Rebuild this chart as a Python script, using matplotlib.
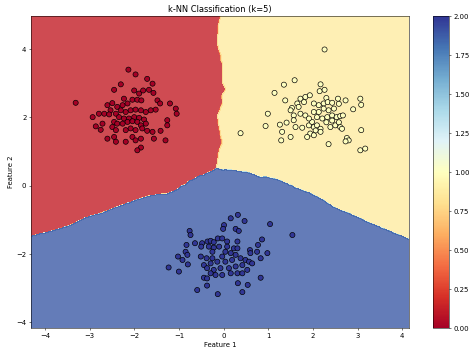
import numpy as np
import matplotlib
matplotlib.use("Agg")
import matplotlib.pyplot as plt

# Class 0 (red cluster)
red_x = [-2.13, -1.97, -1.71, -1.59, -2.30, -2.45, -2.00, -1.89, -1.80, -1.67, -1.57, -3.31,
         -2.23, -2.04, -1.93, -1.84, -1.48, -1.42, -1.20, -1.07, -1.05, -2.60, -2.49, -2.38,
         -2.26, -2.15, -2.53, -2.41, -2.30, -2.19, -2.08, -1.97, -1.85, -1.74, -1.63, -1.52,
         -2.79, -2.67, -2.56, -2.93, -2.34, -2.23, -2.12, -2.00, -1.89, -1.78, -2.15, -2.04,
         -1.93, -1.26, -1.26, -2.71, -2.86, -2.45, -2.38, -2.26, -1.85, -1.74, -2.75, -2.49,
         -2.41, -2.19, -2.08, -1.97, -1.82, -1.71, -1.59, -1.41, -2.60, -2.45, -2.41, -2.19,
         -2.04, -1.97, -1.85, -1.56, -1.30, -1.85, -1.93]
red_y = [3.40, 3.26, 3.13, 2.99, 2.97, 2.81, 2.79, 2.70, 2.79, 2.81, 2.72, 2.43,
         2.55, 2.52, 2.52, 2.50, 2.50, 2.41, 2.41, 2.26, 2.11, 2.36, 2.42, 2.31,
         2.36, 2.41, 2.21, 2.11, 2.21, 2.16, 2.21, 2.23, 2.21, 2.16, 2.21, 2.23,
         2.11, 2.11, 2.09, 2.01, 2.01, 1.97, 1.97, 2.01, 1.99, 1.94, 1.87, 1.89,
         1.87, 1.92, 1.77, 1.82, 1.74, 1.87, 1.82, 1.82, 1.77, 1.82, 1.64, 1.72,
         1.63, 1.63, 1.68, 1.63, 1.68, 1.61, 1.58, 1.61, 1.38, 1.43, 1.29, 1.29,
         1.43, 1.33, 1.38, 1.38, 1.33, 1.12, 1.04]

# Class 1 (yellow cluster)
yel_x = [1.59, 1.35, 1.14, 2.17, 2.15, 2.26, 1.38, 1.72, 1.83, 1.93, 1.80, 1.65,
         1.53, 1.50, 1.68, 2.02, 2.13, 2.24, 2.30, 2.33, 2.43, 2.56, 2.58, 2.73,
         3.06, 3.08, 2.90, 0.99, 0.94, 1.26, 1.41, 1.57, 1.72, 1.83, 1.57, 1.61,
         1.76, 1.91, 1.98, 2.09, 2.21, 2.32, 2.43, 2.53, 2.61, 2.67, 2.47, 2.35,
         2.02, 2.13, 2.24, 2.02, 2.09, 2.17, 2.06, 2.17, 1.94, 2.02, 1.87, 2.39,
         2.50, 2.61, 2.65, 1.31, 1.50, 1.29, 2.35, 2.76, 2.80, 2.73, 3.08, 3.06,
         3.17, 2.58, 2.30, 2.43, 1.91, 2.26, 0.38]
yel_y = [3.09, 2.96, 2.72, 2.97, 2.77, 2.81, 2.50, 2.55, 2.60, 2.65, 2.45, 2.41,
         2.28, 2.21, 2.31, 2.41, 2.36, 2.41, 2.57, 2.45, 2.43, 2.55, 2.40, 2.50,
         2.55, 2.37, 2.24, 2.11, 1.75, 1.79, 1.85, 2.06, 2.11, 2.06, 1.92, 1.72,
         1.70, 1.77, 1.87, 2.01, 1.97, 2.01, 2.06, 2.01, 2.04, 2.06, 2.26, 2.21,
         2.16, 2.16, 2.26, 1.72, 1.77, 1.67, 1.62, 1.58, 1.53, 1.48, 1.43, 1.72,
         1.77, 1.72, 1.67, 1.58, 1.43, 1.33, 1.22, 1.40, 1.33, 1.30, 1.63, 1.04,
         1.09, 1.86, 1.86, 1.91, 1.97, 3.99, 1.54]

# Class 2 (blue cluster)
blu_x = [0.16, 0.32, 0.47, 0.01, -0.01, 0.27, 0.34, 1.04, -0.76, -0.74, -0.64, -0.83,
         -0.48, -0.50, -0.36, -0.29, -0.22, -0.13, -0.03, 0.08, 0.31, -0.33, -0.22, -0.10,
         0.08, 0.23, 0.31, -0.25, 0.04, 0.16, 0.27, -0.85, -1.02, -0.81, -0.92, -0.51,
         -0.38, -0.25, -0.03, 0.59, 0.60, 0.75, 0.77, 0.86, 0.98, 0.83, 0.38, 0.49,
         0.19, 0.04, -0.14, -0.29, -0.44, -0.80, -1.23, -1.00, -0.37, -0.22, -0.07, 0.12,
         0.27, 0.42, 0.57, -0.29, -0.18, -0.03, 0.16, 0.31, 0.42, -0.44, -0.37, 0.83,
         0.32, 0.54, -0.37, -0.59, -0.13, 0.42, 0.64, 0.53, 1.54]
blu_y = [-0.95, -0.85, -1.03, -1.15, -1.26, -1.26, -1.32, -1.12, -1.32, -1.44, -1.68, -1.73,
         -1.68, -1.78, -1.63, -1.61, -1.65, -1.54, -1.54, -1.63, -1.63, -1.78, -1.81, -1.78,
         -1.78, -1.83, -1.83, -1.93, -1.93, -1.97, -2.02, -1.93, -2.07, -2.02, -2.17, -2.07,
         -2.12, -2.12, -2.07, -1.88, -1.97, -1.93, -1.73, -1.57, -1.97, -2.12, -2.12, -2.17,
         -2.17, -2.22, -2.22, -2.27, -2.32, -2.30, -2.39, -2.51, -2.41, -2.46, -2.41, -2.41,
         -2.36, -2.32, -2.22, -2.56, -2.61, -2.61, -2.56, -2.56, -2.56, -2.69, -2.71, -2.69,
         -2.85, -2.90, -2.92, -3.05, -3.17, -3.11, -2.27, -2.46, -1.44]

title = "k-NN Classification (k=5)"
xlabel = "Feature 1"
ylabel = "Feature 2"
k_neighbors = 5

X = np.column_stack([np.concatenate([red_x, yel_x, blu_x]),
                     np.concatenate([red_y, yel_y, blu_y])])
labels = np.array([0] * len(red_x) + [1] * len(yel_x) + [2] * len(blu_x))

h = 0.02
x_min, x_max = X[:, 0].min() - 1, X[:, 0].max() + 1
y_min, y_max = X[:, 1].min() - 1, X[:, 1].max() + 1
xx, yy = np.meshgrid(np.arange(x_min, x_max, h), np.arange(y_min, y_max, h))
grid = np.c_[xx.ravel(), yy.ravel()]
Z = np.empty(len(grid), dtype=int)
chunk = 4000
for i in range(0, len(grid), chunk):
    g = grid[i:i + chunk]
    d = ((g[:, None, :] - X[None, :, :]) ** 2).sum(-1)
    idx = np.argpartition(d, k_neighbors, axis=1)[:, :k_neighbors]
    votes = labels[idx]
    counts = np.stack([(votes == c).sum(1) for c in range(3)], axis=1)
    Z[i:i + chunk] = counts.argmax(1)
Z = Z.reshape(xx.shape)

plt.rcParams["xtick.labelsize"] = 10.4
plt.rcParams["ytick.labelsize"] = 10.4
plt.rcParams["axes.labelsize"] = 10.4

fig = plt.figure(figsize=(10, 7.511), dpi=47.4)
ax = fig.add_axes([0.0654, 0.0778, 0.7975, 0.8772])
cax = fig.add_axes([0.9129, 0.0778, 0.035, 0.8772])

ax.contourf(xx, yy, Z, alpha=0.8, cmap=plt.cm.RdYlBu)
sc = ax.scatter(X[:, 0], X[:, 1], c=labels, cmap=plt.cm.RdYlBu, edgecolors="k", s=60)
ax.set_title(title, fontsize=12.5)
ax.set_xlabel(xlabel)
ax.set_ylabel(ylabel)
fig.colorbar(sc, cax=cax)

fig.savefig("out.png", dpi=47.4)
